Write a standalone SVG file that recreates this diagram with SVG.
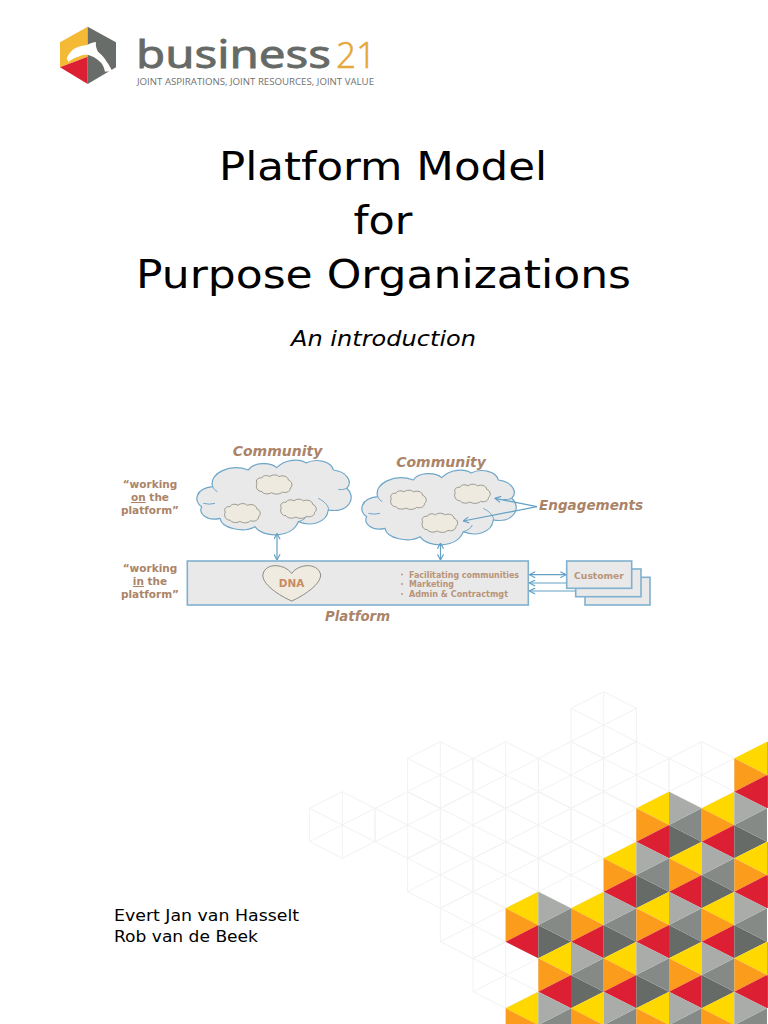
<svg xmlns="http://www.w3.org/2000/svg" width="768" height="1024" viewBox="0 0 768 1024">
<style>
text{font-family:"DejaVu Sans",Verdana,sans-serif}
.title{font-size:38.5px;fill:#000;text-anchor:middle}
.sub{font-size:21px;font-style:italic;fill:#000;text-anchor:middle}
.author{font-size:15px;fill:#000}
.big{font-weight:bold;font-style:italic;fill:#ab8468;font-size:14px;text-anchor:middle}
.side{font-weight:bold;fill:#ab8468;font-size:10.5px;text-anchor:middle}
.list{font-weight:bold;fill:#b89478;font-size:8px}
.flow{fill:none;stroke:#63a0c4;stroke-width:1.2}
.box{fill:#e9e9e9;stroke:#7fb1cf;stroke-width:1.6}
.cl{fill:#e9e9e9;stroke:#6ea7c9;stroke-width:3.6;stroke-linejoin:round}
.cli{fill:none;stroke:#6ea7c9;stroke-width:3}
.sc{fill:#eeeadf;stroke:#85857c;stroke-width:2.4}
.f{fill:none;stroke:#f2f2f2;stroke-width:1}
</style>
<defs>
<marker id="ah" viewBox="0 0 8 8" refX="7.5" refY="4" markerWidth="7" markerHeight="7" markerUnits="userSpaceOnUse" orient="auto-start-reverse"><path d="M1 .5L7.5 4L1 7.5" fill="none" stroke="#63a0c4" stroke-width="1.3"/></marker>
<g id="hx">
<path d="M0 0L-32.67-16.67L0-33.33Z" fill="#ffd800"/>
<path d="M0 0L-32.67-16.67V16.67Z" fill="#fb9c1c"/>
<path d="M0 0L-32.67 16.67L0 33.33Z" fill="#dc1f32"/>
<path d="M0 0L0 33.33L32.67 16.67Z" fill="#676b67"/>
<path d="M0 0L32.67 16.67V-16.67Z" fill="#868a86"/>
<path d="M0 0L32.67-16.67L0-33.33Z" fill="#a9aca8"/>
</g>
<path id="fh" class="f" d="M0-33.33L32.67-16.67V16.67L0 33.33L-32.67 16.67V-16.67ZM0-33.33V33.33M-32.67-16.67L32.67 16.67M-32.67 16.67L32.67-16.67"/>
<path id="sm" class="sc" d="M6 28C0 18 10 10 20 12C24 3 38 3 44 8C52 0 68 2 72 8C84 2 100 8 100 18C112 22 114 36 106 42C106 54 90 58 82 54C74 62 58 62 50 56C40 62 24 60 20 52C8 54 0 38 6 28Z"/>
<g id="cloud">
<path class="cl" d="M68 95C55 55 120 25 175 45C190 22 240 20 260 38C285 12 330 10 348 24C380 8 425 20 430 45C470 50 490 80 470 100C500 125 480 175 415 165C410 205 360 215 325 200C305 250 220 250 195 215C160 235 95 220 90 190C50 200 25 175 35 155C10 140 15 100 68 95Z"/>
<path class="cli" d="M40 145Q58 150 75 145M385 130C405 140 418 155 415 165M325 200Q345 195 352 180M470 100Q458 106 445 103M68 95Q72 105 82 110"/>
</g>
</defs>

<g id="logo">
<path d="M87.7 26.7L60 42.3V67.3L87.7 56.7V26.7Z" fill="#f4b935"/>
<path d="M60 67.3L87.7 84V56.7Z" fill="#dc1f32"/>
<path d="M87.7 26.7L116 42.3V67.3L87.7 84Z" fill="#696d69"/>
<path d="M66.700 58.300C69 53 72 50 75 48.300C79 46 83 45.500 86.700 45C89 44 92 42.500 96 42C95.500 45 96 48 98 51.700C102 55 105 58.500 106.700 61.700C109 65 111.500 69 113.300 73.300C110.500 71.500 107.500 71 105 71.700C104 67 102.500 64 100 61.700C96 58 92 56 88.300 55C84.500 54.500 81 55.500 78.300 56.700C74.500 58 71 60 68.300 61.700Z" fill="#fff"/>
<text x="136" y="67.500" font-size="38" fill="#666a66" stroke="#666a66" stroke-width=".8" textLength="195" lengthAdjust="spacingAndGlyphs" style="font-family:'Noto Sans',sans-serif">business</text>
<text x="336" y="67.500" font-size="36" fill="#e5a83a" stroke="#e5a83a" stroke-width=".4" textLength="40" lengthAdjust="spacingAndGlyphs" style="font-family:'Noto Sans',sans-serif;font-weight:300">21</text>
<text x="137" y="85" font-size="8.4" fill="#6f726f" textLength="237" lengthAdjust="spacingAndGlyphs" style="font-family:'Open Sans',sans-serif">JOINT ASPIRATIONS, JOINT RESOURCES, JOINT VALUE</text>
</g>

<g id="titles">
<text class="title" x="383" y="180" textLength="328" lengthAdjust="spacingAndGlyphs">Platform Model</text>
<text class="title" x="383" y="234" textLength="59" lengthAdjust="spacingAndGlyphs">for</text>
<text class="title" x="383.500" y="288" textLength="495" lengthAdjust="spacingAndGlyphs">Purpose Organizations</text>
<text class="sub" x="383.500" y="346" textLength="185" lengthAdjust="spacingAndGlyphs">An introduction</text>
</g>

<g id="community-1">
<use href="#cloud" transform="translate(190 455) scale(.3333)"/>
<use href="#sm" transform="translate(223.300 502.700) scale(.3333)"/>
<use href="#sm" transform="translate(255 474) scale(.3333)"/>
<use href="#sm" transform="translate(279.300 498.300) scale(.3333)"/>
<text class="big" x="277.500" y="456">Community</text>
</g>
<g id="community-2">
<use href="#cloud" transform="translate(355 465) scale(.3333)"/>
<use href="#sm" transform="translate(389.300 489.300) scale(.3333)"/>
<use href="#sm" transform="translate(453.300 483.300) scale(.3333)"/>
<use href="#sm" transform="translate(420.700 512.300) scale(.3333)"/>
<text class="big" x="441" y="467">Community</text>
</g>
<g id="engagements"><text class="big" x="591" y="510" textLength="104" lengthAdjust="spacingAndGlyphs">Engagements</text></g>
<g id="label-on">
<text class="side" x="150" y="488">“working</text>
<text class="side" x="150" y="501"><tspan text-decoration="underline">on</tspan> the</text>
<text class="side" x="150" y="514">platform”</text>
</g>
<g id="label-in">
<text class="side" x="150" y="572">“working</text>
<text class="side" x="150" y="585"><tspan text-decoration="underline">in</tspan> the</text>
<text class="side" x="150" y="598">platform”</text>
</g>
<g id="platform">
<rect class="box" x="187.300" y="561" width="341" height="44"/>
<path d="M291.700 573.500C285 564 266 562 263 574C261 584 280 596 291.700 601C303 596 322 584 320.500 574C317 562 298 564 291.700 573.500Z" fill="#f0ebe0" stroke="#8b8b82" stroke-width="1"/>
<text x="291.500" y="587" font-size="10.500" font-weight="bold" fill="#c98b60" text-anchor="middle">DNA</text>
<circle cx="402" cy="574.500" r=".9" fill="#b89478"/><circle cx="402" cy="584" r=".9" fill="#b89478"/><circle cx="402" cy="594" r=".9" fill="#b89478"/>
<text class="list" x="409" y="577.500" textLength="110" lengthAdjust="spacingAndGlyphs">Facilitating communities</text>
<text class="list" x="409" y="587" textLength="45" lengthAdjust="spacingAndGlyphs">Marketing</text>
<text class="list" x="409" y="596.500" textLength="99" lengthAdjust="spacingAndGlyphs">Admin &amp; Contractmgt</text>
<text class="big" x="357.500" y="621" textLength="65" lengthAdjust="spacingAndGlyphs">Platform</text>
</g>
<g id="customer">
<rect class="box" x="585" y="577.300" width="65" height="27.700"/>
<rect class="box" x="575.700" y="569" width="65.300" height="27.700"/>
<rect class="box" x="566.700" y="561" width="65" height="27.300"/>
<text x="599" y="579" font-size="9.200" font-weight="bold" fill="#b89478" text-anchor="middle">Customer</text>
</g>
<g id="connectors">
<path class="flow" d="M277 533.500V560" marker-start="url(#ah)" marker-end="url(#ah)"/>
<path class="flow" d="M440.500 543V560" marker-start="url(#ah)" marker-end="url(#ah)"/>
<path class="flow" d="M529.500 574.700H566" marker-start="url(#ah)" marker-end="url(#ah)"/>
<path class="flow" d="M529.500 583H566" marker-start="url(#ah)"/>
<path class="flow" d="M529.500 591H575" marker-start="url(#ah)"/>
<path class="flow" d="M537 506.700L495 498.300" marker-end="url(#ah)"/>
<path class="flow" d="M537 506.700L463.300 521" marker-end="url(#ah)"/>
</g>

<g id="pattern-faint">
<use href="#fh" x="603.700" y="725"/>
<use href="#fh" x="440.300" y="775"/><use href="#fh" x="505.700" y="775"/><use href="#fh" x="571" y="775"/><use href="#fh" x="636.300" y="775"/><use href="#fh" x="701.700" y="775"/>
<use href="#fh" x="342.300" y="825"/><use href="#fh" x="407.700" y="825"/><use href="#fh" x="473" y="825"/><use href="#fh" x="538.300" y="825"/><use href="#fh" x="603.700" y="825"/>
<use href="#fh" x="440.300" y="875"/><use href="#fh" x="505.700" y="875"/><use href="#fh" x="571" y="875"/>
<use href="#fh" x="473" y="925"/>
<use href="#fh" x="505.700" y="975"/>
</g>
<g id="pattern">
<use href="#hx" x="767" y="775"/>
<use href="#hx" x="669" y="825"/><use href="#hx" x="734.300" y="825"/>
<use href="#hx" x="636.300" y="875"/><use href="#hx" x="701.700" y="875"/><use href="#hx" x="767" y="875"/>
<use href="#hx" x="538.300" y="925"/><use href="#hx" x="603.700" y="925"/><use href="#hx" x="669" y="925"/><use href="#hx" x="734.300" y="925"/>
<use href="#hx" x="571" y="975"/><use href="#hx" x="636.300" y="975"/><use href="#hx" x="701.700" y="975"/><use href="#hx" x="767" y="975"/>
<use href="#hx" x="538.300" y="1025"/><use href="#hx" x="603.700" y="1025"/><use href="#hx" x="669" y="1025"/><use href="#hx" x="734.300" y="1025"/>
</g>
<g id="authors">
<text class="author" x="114" y="921" textLength="185" lengthAdjust="spacingAndGlyphs">Evert Jan van Hasselt</text>
<text class="author" x="114" y="942" textLength="144" lengthAdjust="spacingAndGlyphs">Rob van de Beek</text>
</g>
</svg>
